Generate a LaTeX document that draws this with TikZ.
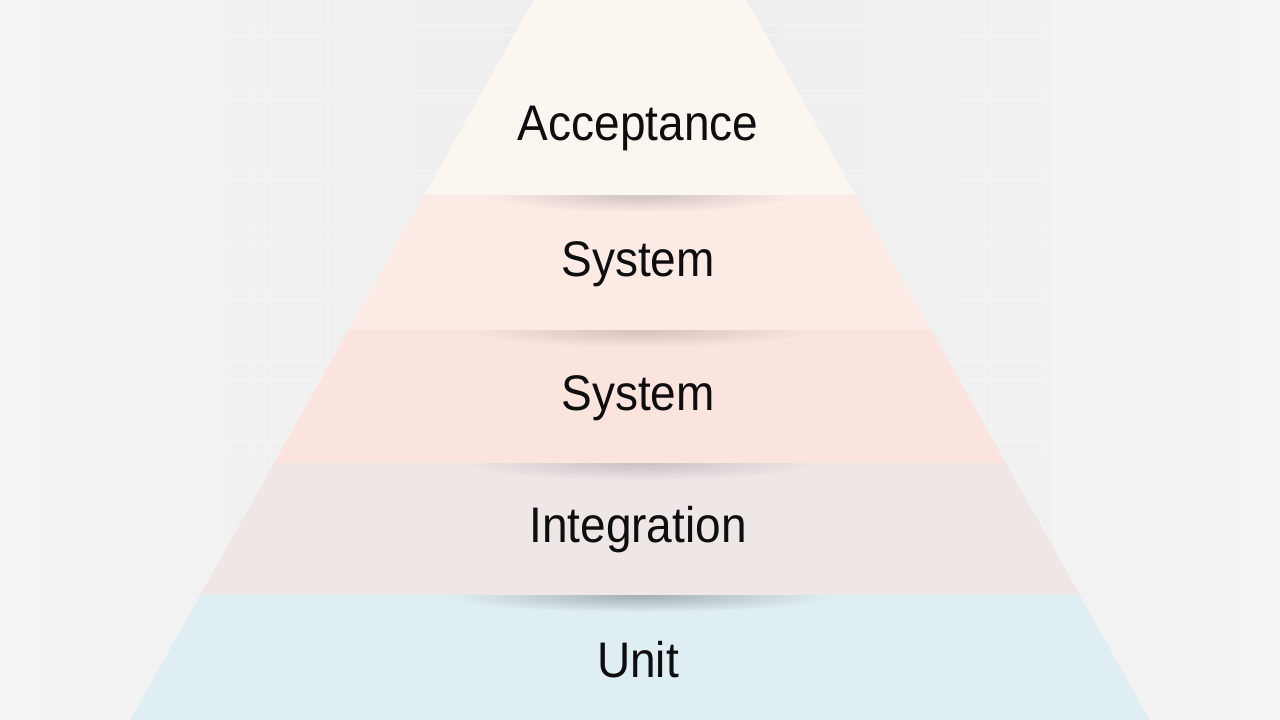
\documentclass[tikz,border=0pt]{standalone}
\usepackage{fontspec}
\setmainfont{Liberation Sans}[FakeStretch=0.92]
\usetikzlibrary{fadings}
\definecolor{bgc}{HTML}{EDEDEE}
\definecolor{bgl}{HTML}{F4F4F4}
\definecolor{cacc}{HTML}{FCF6F1}
\definecolor{csysa}{HTML}{FCEAE5}
\definecolor{csysb}{HTML}{FBE3DE}
\definecolor{cint}{HTML}{EFE6E6}
\definecolor{cunit}{HTML}{DFEEF3}
\definecolor{ink}{HTML}{0E0E0E}
\tikzfading[name=softshadow, inner color=transparent!0, outer color=transparent!100]
\tikzset{
  lab/.style={font=\fontsize{50}{50}\selectfont, text=ink, anchor=base, inner sep=0pt},
  gridline/.style={white, line width=1pt, opacity=0.3},
}
\newcommand{\layershadow}[3]{% y, halfwidth, opacity
  \fill[black, opacity=#3, path fading=softshadow] (640,#1) ellipse ({#2} and 16);
}
\begin{document}
\begin{tikzpicture}[x=1pt,y=-1pt]
\useasboundingbox (0,0) rectangle (1280,720);
% background
\fill[bgc] (0,0) rectangle (1280,720);
\shade[left color=bgl, right color=bgc] (0,0) rectangle (640,720);
\shade[left color=bgc, right color=bgl] (640,0) rectangle (1280,720);
% faint grid
\foreach \x in {190,205,255,270,320,335,390,950,990,1040,1055,1100}{
  \draw[gridline] (\x,0) -- (\x,600);
}
\foreach \y in {25,35,90,100,170,180,230,245,290,300,360,380,440,450}{
  \draw[gridline] (175,\y) -- (1100,\y);
}
% layers
\fill[cacc] (533.6,0) -- (746.4,0) -- (855.6,195) -- (424.4,195) -- cycle;
\fill[csysa] (424.4,195) -- (855.6,195) -- (931.2,330) -- (348.8,330) -- cycle;
\fill[csysb] (348.8,330) -- (931.2,330) -- (1005.7,463) -- (274.3,463) -- cycle;
\fill[cint] (274.3,463) -- (1005.7,463) -- (1079.6,595) -- (200.4,595) -- cycle;
\fill[cunit] (200.4,595) -- (1079.6,595) -- (1149.6,720) -- (130.4,720) -- cycle;
% soft shadows under each layer edge
\begin{scope}
  \clip (424.4,195) -- (855.6,195) -- (931.2,330) -- (348.8,330) -- cycle;
  \layershadow{196}{150}{0.16}
\end{scope}
\begin{scope}
  \clip (348.8,330) -- (931.2,330) -- (1005.7,463) -- (274.3,463) -- cycle;
  \layershadow{331}{170}{0.14}
\end{scope}
\begin{scope}
  \clip (274.3,463) -- (1005.7,463) -- (1079.6,595) -- (200.4,595) -- cycle;
  \layershadow{464}{175}{0.15}
\end{scope}
\begin{scope}
  \clip (200.4,595) -- (1079.6,595) -- (1149.6,720) -- (130.4,720) -- cycle;
  \layershadow{596}{190}{0.26}
\end{scope}
% labels
\node[lab] (acc) at (638,140) {Acceptance};
\node[lab] (sysa) at (638,276) {System};
\node[lab] (sysb) at (638,410) {System};
\node[lab] (int) at (638,542) {Integration};
\node[lab] (unit) at (638,677) {Unit};
\end{tikzpicture}
\end{document}
